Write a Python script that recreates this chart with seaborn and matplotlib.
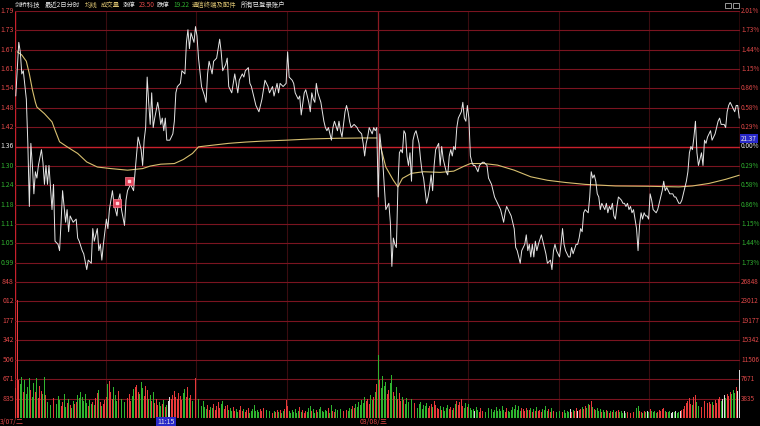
import matplotlib
matplotlib.use("Agg")
import matplotlib.pyplot as plt
from matplotlib.patches import Rectangle
import seaborn as sns
import pandas as pd
from matplotlib.transforms import blended_transform_factory as btf

# ---------------- data ----------------
prev_close = 21.36
price_min = [0, 2, 3, 4, 5, 7, 8, 9, 10, 11, 12, 13, 14, 15, 17, 18, 19, 20, 21, 22, 24, 25, 26, 28, 29, 30,
             31, 33, 34, 35, 36, 38, 40, 41, 42, 44, 45, 47, 48, 50, 51, 52, 54, 55, 56, 57, 58, 60, 61, 62,
             64, 65, 67, 68, 69, 70, 72, 73, 74, 76, 78, 79, 81, 82, 83, 84, 85, 86, 87, 88, 89, 90, 91, 92,
             94, 95, 96, 97, 98, 99, 100, 102, 104, 105, 106, 107, 109, 110, 112, 113, 114, 115, 116, 118, 119,
             120, 121, 123, 125, 126, 127, 128, 130, 131, 133, 135, 136, 137, 139, 140, 141, 143, 144, 145, 147,
             148, 150, 151, 152, 154, 155, 156, 158, 159, 161, 163, 164, 165, 167, 168, 170, 171, 173, 174, 175,
             177, 179, 180, 181, 183, 184, 185, 187, 188, 189, 191, 192, 194, 195, 196, 197, 198, 199, 200, 202,
             204, 205, 206, 207, 209, 210, 211, 213, 214, 215, 216, 218, 219, 220, 221, 222, 224, 226, 227, 229,
             230, 231, 232, 233, 234, 236, 237, 238, 239,
             240, 241, 243, 245, 247, 248, 249, 250, 251, 252, 253, 254, 255, 256, 257, 258, 259, 260, 261, 262,
             263, 264, 265, 267, 268, 269, 270, 271, 272, 273, 274, 275, 276, 277, 278, 279, 280, 281, 282, 283,
             285, 286, 287, 288, 289, 290, 291, 292, 293, 295, 296, 297, 298, 299, 300, 301, 302, 303, 304, 306,
             307, 309, 310, 312, 313, 314, 315, 316, 317, 319, 320, 321, 323, 324, 325, 326, 328, 329, 330, 331,
             332, 333, 334, 335, 337, 338, 339, 340, 341, 342, 343, 344, 345, 346, 348, 349, 350, 351, 352, 354,
             355, 356, 357, 358, 360, 361, 362, 363, 364, 366, 367, 368, 369, 371, 372, 373, 374, 375, 376, 377,
             379, 380, 381, 382, 383, 384, 385, 386, 387, 388, 390, 391, 392, 393, 394, 395, 396, 397, 398, 399,
             401, 402, 403, 404, 405, 406, 407, 408, 409, 410, 411, 412, 413, 414, 415, 416, 417, 418, 419, 420,
             421, 422, 424, 425, 426, 427, 428, 429, 430, 431, 433, 434, 435, 436, 437, 438, 439, 440, 441, 442,
             444, 445, 446, 447, 448, 449, 450, 451, 452, 453, 454, 455, 456, 457, 458, 459, 460, 461, 462, 463,
             464, 465, 466, 467, 469, 470, 471, 472, 473, 474, 476, 477, 478, 479]
price_val = [21.52, 21.69, 21.66, 21.59, 21.60, 21.51, 21.37, 21.17, 21.37, 21.30, 21.21, 21.28, 21.26, 21.30,
             21.35, 21.31, 21.24, 21.30, 21.24, 21.30, 21.16, 21.24, 21.06, 21.05, 21.03, 21.12, 21.22, 21.12,
             21.16, 21.09, 21.14, 21.12, 21.13, 21.07, 21.06, 21.03, 21.02, 20.97, 21.00, 20.99, 21.10, 21.06,
             21.10, 21.03, 21.05, 21.00, 21.05, 21.13, 21.10, 21.16, 21.22, 21.18, 21.14, 21.19, 21.21, 21.16,
             21.11, 21.19, 21.22, 21.24, 21.22, 21.28, 21.39, 21.37, 21.35, 21.30, 21.38, 21.42, 21.58, 21.50,
             21.43, 21.53, 21.42, 21.45, 21.50, 21.47, 21.43, 21.45, 21.41, 21.45, 21.38, 21.38, 21.40, 21.44,
             21.53, 21.55, 21.56, 21.60, 21.59, 21.69, 21.73, 21.67, 21.72, 21.69, 21.74, 21.71, 21.64, 21.55,
             21.52, 21.50, 21.59, 21.63, 21.59, 21.63, 21.64, 21.70, 21.66, 21.60, 21.62, 21.64, 21.55, 21.53,
             21.56, 21.59, 21.53, 21.57, 21.59, 21.58, 21.60, 21.61, 21.56, 21.55, 21.51, 21.49, 21.47, 21.51,
             21.54, 21.57, 21.55, 21.53, 21.55, 21.52, 21.56, 21.53, 21.56, 21.55, 21.56, 21.66, 21.58, 21.57,
             21.56, 21.53, 21.51, 21.52, 21.46, 21.53, 21.54, 21.50, 21.47, 21.53, 21.51, 21.50, 21.56, 21.53,
             21.50, 21.44, 21.42, 21.41, 21.42, 21.38, 21.42, 21.44, 21.41, 21.44, 21.41, 21.39, 21.47, 21.49,
             21.47, 21.44, 21.42, 21.43, 21.42, 21.41, 21.40, 21.37, 21.33, 21.37, 21.39, 21.42, 21.40, 21.42,
             21.41, 21.42,
             21.20, 21.40, 21.31, 21.16, 21.18, 21.12, 20.98, 21.07, 21.05, 21.04, 21.23, 21.34, 21.35, 21.34,
             21.41, 21.40, 21.33, 21.30, 21.34, 21.25, 21.38, 21.40, 21.41, 21.37, 21.32, 21.28, 21.26, 21.22,
             21.18, 21.20, 21.23, 21.27, 21.22, 21.30, 21.35, 21.36, 21.37, 21.30, 21.36, 21.32, 21.28, 21.27,
             21.33, 21.35, 21.33, 21.36, 21.35, 21.42, 21.45, 21.47, 21.50, 21.45, 21.44, 21.49, 21.45, 21.33,
             21.31, 21.30, 21.30, 21.28, 21.30, 21.31, 21.31, 21.30, 21.26, 21.25, 21.24, 21.22, 21.20, 21.18,
             21.17, 21.16, 21.12, 21.15, 21.17, 21.16, 21.14, 21.12, 21.10, 21.04, 21.03, 21.01, 20.99, 21.03,
             21.05, 21.08, 21.03, 21.05, 21.01, 21.05, 21.01, 21.06, 21.03, 21.05, 21.08, 21.06, 21.04, 21.02,
             20.99, 21.00, 20.97, 21.03, 21.05, 21.03, 21.01, 21.05, 21.10, 21.05, 21.03, 21.01, 21.01, 21.04,
             21.02, 21.05, 21.05, 21.07, 21.10, 21.09, 21.15, 21.16, 21.15, 21.20, 21.28, 21.26, 21.27, 21.25,
             21.21, 21.20, 21.16, 21.18, 21.16, 21.18, 21.15, 21.17, 21.16, 21.18, 21.14, 21.13, 21.17, 21.20,
             21.19, 21.18, 21.18, 21.17, 21.18, 21.16, 21.17, 21.15, 21.16, 21.13, 21.10, 21.03, 21.11, 21.15,
             21.13, 21.15, 21.14, 21.14, 21.13, 21.21, 21.19, 21.16, 21.15, 21.16, 21.18, 21.20, 21.22, 21.25,
             21.22, 21.23, 21.21, 21.21, 21.21, 21.20, 21.20, 21.19, 21.18, 21.18, 21.19, 21.21, 21.25, 21.28,
             21.34, 21.36, 21.35, 21.39, 21.44, 21.34, 21.30, 21.32, 21.34, 21.30, 21.38, 21.37, 21.39, 21.40,
             21.41, 21.38, 21.39, 21.40, 21.42, 21.44, 21.45, 21.43, 21.43, 21.42, 21.47, 21.49, 21.50, 21.49,
             21.47, 21.49, 21.49, 21.45]

avg1_min = [1, 4, 7, 9, 11, 13, 14, 19, 24, 26, 29, 34, 41, 47, 54, 63, 74, 84, 89, 96, 105, 111, 117, 121,
            130, 141, 152, 163, 179, 196, 212, 230, 239]
avg1_val = [21.66, 21.65, 21.63, 21.59, 21.54, 21.50, 21.485, 21.464, 21.438, 21.412, 21.375, 21.359, 21.338,
            21.311, 21.295, 21.29, 21.285, 21.29, 21.298, 21.304, 21.306, 21.319, 21.338, 21.359, 21.364, 21.37,
            21.374, 21.377, 21.38, 21.384, 21.386, 21.387, 21.387]
avg2_min = [241, 245, 250, 253, 256, 262, 270, 281, 290, 297, 301, 310, 319, 330, 341, 352, 364, 377, 397, 419,
            439, 448, 459, 470, 479]
avg2_val = [21.37, 21.295, 21.253, 21.232, 21.259, 21.275, 21.28, 21.278, 21.282, 21.298, 21.306, 21.306,
            21.301, 21.285, 21.264, 21.253, 21.246, 21.24, 21.235, 21.234, 21.232, 21.235, 21.243, 21.256, 21.269]

mark_min = [67, 75]
mark_val = [21.18, 21.25]

# per-minute volume (shares), 20 minutes per row
volume = [
    6000, 23200, 7500, 6800, 8000, 5200, 7600, 4800, 6200, 7900, 5600, 4200, 6900, 5100, 7800, 3900, 6400, 5300, 4700, 8100,
    4500, 3200, 5800, 2600, 6400, 3900, 5100, 2800, 4300, 3600, 2400, 3100, 4700, 2200, 2900, 3800, 2500, 1900, 3300, 2700,
    3100, 4600, 3900, 5200, 4100, 3300, 4800, 2900, 2300, 3600, 2700, 3200, 2500, 3900, 4900, 5600, 3100, 2400, 2800, 3500,
    4200, 6800, 7400, 5100, 3800, 6200, 4500, 3300, 5400, 2900, 3700, 4100, 3200, 2600, 3900, 4800, 3400, 4400, 5800, 6100,
    6600, 5200, 4700, 7100, 5900, 4300, 6400, 5500, 3800, 4600, 3400, 5100, 2900, 3700, 2600, 3200, 2400, 2800, 3500, 2100,
    2600, 3300, 4100, 3700, 4600, 5300, 4200, 3800, 5000, 4400, 3600, 4900, 5700, 4100, 6200, 3900, 4500, 3400, 4800, 7900,
    4600, 3700, 2900, 2300, 3400, 2100, 1800, 2600, 1500, 2200, 1900, 2800, 1600, 2400, 3100, 2000, 2700, 3300, 1700, 2300,
    2500, 1600, 1900, 1300, 2200, 1400, 1800, 1100, 1600, 2400, 1300, 1700, 1200, 1500, 1900, 1000, 1400, 1800, 2600, 1300,
    1500, 1100, 1700, 1300, 2000, 1200, 1600, 900, 1400, 1800, 1000, 1300, 1100, 1600, 1200, 1500, 900, 1300, 1700, 3600,
    2400, 1400, 1000, 1500, 1200, 1800, 900, 1300, 2100, 1100, 1600, 1000, 1400, 1200, 1900, 2300, 1300, 1700, 1000, 1500,
    1200, 1800, 2200, 1400, 1100, 1600, 1300, 1900, 1000, 2500, 1400, 1200, 1700, 1500, 1100, 1800, 2600, 1300, 1900, 1600,
    1400, 2000, 1700, 2400, 1900, 2800, 2200, 3100, 2600, 3500, 2900, 4200, 3300, 3800, 2700, 4600, 3600, 4100, 5200, 6800,
    12400, 7600, 5900, 8200, 6400, 7100, 4800, 5600, 6900, 8400, 5200, 4400, 6100, 3700, 4900, 3300, 4200, 3600, 2800, 3900,
    3100, 2500, 3800, 2200, 2900, 3400, 2000, 2700, 3200, 1800, 2600, 2300, 3000, 1900, 2400, 2800, 2100, 3300, 2500, 2000,
    1800, 2300, 1600, 2100, 1400, 1900, 2500, 1700, 2200, 1500, 2000, 2800, 3400, 2600, 3100, 3700, 2400, 2000, 2900, 2200,
    2700, 1900, 1500, 1800, 1300, 2100, 1600, 1200, 1900, 1400, 1700, 1100, 1500, 2000, 1300, 1800, 1200, 1600, 2200, 1400,
    1700, 1300, 2400, 1500, 1100, 1900, 1400, 1200, 1600, 2100, 1800, 2600, 1500, 2300, 1300, 1900, 1700, 1400, 2000, 1600,
    1500, 1900, 1200, 1700, 1400, 2200, 1300, 1600, 1100, 1800, 1500, 2400, 1300, 1700, 1200, 2000, 1400, 1600, 1100, 1500,
    1300, 1800, 1200, 1600, 1000, 1400, 1200, 1700, 1100, 1500, 1300, 1900, 1400, 1600, 1800, 2200, 1700, 2400, 2000, 2700,
    2600, 3400, 2200, 1800, 1500, 1900, 1300, 1700, 1200, 1500, 1100, 1600, 1300, 1000, 1400, 1200, 1600, 1100, 1300, 1500,
    1100, 1400, 1000, 1300, 900, 1200, 1500, 1000, 1300, 1100, 1600, 1900, 2300, 1400, 1200, 1000, 1300, 1100, 1400, 1200,
    1800, 1400, 1100, 1300, 1000, 1200, 1500, 1300, 1700, 1900, 1400, 1200, 1100, 1300, 1000, 1200, 1100, 1400, 1000, 1200,
    1300, 1500, 1800, 2300, 2900, 3400, 3900, 2800, 2500, 4100, 4600, 3100, 2400, 2700, 2200, 2600, 3300, 2500, 2900, 3100,
    2800, 3200, 2500, 3600, 2900, 3800, 4200, 3300, 3700, 4500, 3900, 4800, 4300, 5200, 4700, 5600, 4900, 6100, 5400, 9500,
]

left_price_labels = ["1.79", "1.73", "1.67", "1.61", "1.54", "1.48", "1.42", "1.36",
                     "1.30", "1.24", "1.18", "1.11", "1.05", "0.99"]
right_pct_labels = ["2.01%", "1.73%", "1.44%", "1.15%", "0.86%", "0.58%", "0.29%", "0.00%",
                    "0.29%", "0.58%", "0.86%", "1.15%", "1.44%", "1.73%"]
vol_levels = [0, 3835, 7671, 11506, 15342, 19177, 23012, 26848]
vol_left_labels = ["", "835", "671", "506", "342", "177", "012", "848"]
vol_right_labels = ["", "3835", "7671", "11506", "15342", "19177", "23012", "26848"]

# ---------------- style ----------------
sns.set_theme(style="dark")
plt.rcParams["font.family"] = ["Noto Sans CJK SC", "DejaVu Sans"]

BG = "#000000"
GRID = "#7a1420"
GRID_MID = "#c8202c"
VGRID = "#3a0c10"
RED = "#e04848"
GREEN = "#30b030"
WHITE = "#e6e6e6"
YEL = "#d8c070"
FS = 5.0

W, H = 760, 426
fig = plt.figure(figsize=(W / 100, H / 100), dpi=100, facecolor=BG)
x0, x1 = 15, 740
ax = fig.add_axes([x0 / W, 1 - 282 / H, (x1 - x0) / W, (282 - 11) / H], facecolor=BG)
axv = fig.add_axes([x0 / W, 1 - 418 / H, (x1 - x0) / W, (418 - 282) / H], facecolor=BG)

step = prev_close * 0.0201 / 7
ymin, ymax = prev_close - 7 * step, prev_close + 7 * step
xmin, xmax = -0.5, 479.5

# volume bar colour from the direction of the traced price around each minute
dirs = []
j = 0
for m in range(len(volume)):
    while j < len(price_min) - 1 and price_min[j] < m:
        j += 1
    nxt = price_val[j]
    prv = price_val[j - 1] if j > 0 else prev_close
    dirs.append("up" if nxt > prv else ("down" if nxt < prv else "flat"))
dfv = pd.DataFrame({"t": list(range(len(volume))), "v": volume, "d": dirs})
dfv.loc[len(volume) - 1, "d"] = "flat"

sns.barplot(data=dfv, x="t", y="v", hue="d", native_scale=True, dodge=False, width=0.62,
            palette={"up": "#e83a3a", "down": "#2fb52f", "flat": "#dcdcdc"}, saturation=1,
            errorbar=None, linewidth=0, legend=False, ax=axv, zorder=3)

for a in (ax, axv):
    a.set_xlim(xmin, xmax)
    a.set_xticks([])
    a.set_yticks([])
    a.grid(False)
    for s in a.spines.values():
        s.set_visible(False)
    for xm in [60, 120, 180, 300, 360, 420]:
        a.axvline(xm - 0.5, color=VGRID, lw=0.8, zorder=0)
    a.axvline(239.5, color="#8a1a22", lw=0.9, zorder=0)
    a.axvline(xmin, color=GRID_MID, lw=1.0, zorder=0)
    a.axvline(xmax, color=GRID_MID, lw=1.0, zorder=0)
    a.set_xlabel("")
    a.set_ylabel("")

ax.set_ylim(ymin, ymax)
tl = btf(fig.transFigure, ax.transData)
for k, lab in enumerate(left_price_labels):
    lvl = prev_close + (7 - k) * step
    ax.axhline(lvl, color=GRID_MID if k == 7 else GRID, lw=1.0 if k == 7 else 0.8, zorder=0)
    col = WHITE if k == 7 else (RED if k < 7 else GREEN)
    ax.text(14 / W, lvl, lab, transform=tl, ha="right", va="center", fontsize=FS, color=col)
    ax.text(741 / W, lvl, right_pct_labels[k], transform=tl, ha="left", va="center",
            fontsize=FS - 0.4, color=col)
ax.axhline(ymin, color=GRID, lw=0.8, zorder=0)

dfp = pd.DataFrame({"t": price_min, "p": price_val})
sns.lineplot(data=dfp, x="t", y="p", ax=ax, color=WHITE, lw=0.7, zorder=3)
dfa1 = pd.DataFrame({"t": avg1_min, "p": avg1_val})
dfa2 = pd.DataFrame({"t": avg2_min, "p": avg2_val})
sns.lineplot(data=dfa1, x="t", y="p", ax=ax, color=YEL, lw=0.8, zorder=2)
sns.lineplot(data=dfa2, x="t", y="p", ax=ax, color=YEL, lw=0.8, zorder=2)
ax.scatter(mark_min, mark_val, marker="s", s=30, color="#e0445a", edgecolor="#ff8090", lw=0.5, zorder=4)
ax.scatter(mark_min, mark_val, marker="s", s=4, color="#ffd0d8", zorder=5)
ax.set_xlabel("")
ax.set_ylabel("")
ax.set_xlim(xmin, xmax)

# current price tag
ax.text(741 / W, 21.372, "21.37", transform=tl, ha="left", va="bottom", fontsize=FS - 0.4, color=WHITE,
        bbox=dict(boxstyle="square,pad=0.1", fc="#2828c8", ec="none"))

# volume axis
axv.set_ylim(0, vol_levels[-1])
axv.set_xlim(xmin, xmax)
tv = btf(fig.transFigure, axv.transData)
for k, lv in enumerate(vol_levels):
    if k > 0:
        axv.axhline(lv, color=GRID, lw=0.8, zorder=0)
        axv.text(14 / W, lv, vol_left_labels[k], transform=tv, ha="right", va="center",
                 fontsize=FS, color=RED)
        axv.text(741 / W, lv, vol_right_labels[k], transform=tv, ha="left", va="center",
                 fontsize=FS - 0.4, color=RED)

# header
hdr = [("剑桥科技", WHITE, 15), ("最近2日分时", WHITE, 45), ("均线", YEL, 85), ("成交量", YEL, 101),
       ("涨停", WHITE, 123), ("23.50", RED, 139), ("跌停", WHITE, 157), ("19.22", GREEN, 173),
       ("通信终端及配件", YEL, 192), ("所有已登录账户", WHITE, 241)]
for s, c, xp in hdr:
    fig.text(xp / W, 1 - 5.0 / H, s, ha="left", va="center", fontsize=4.6, color=c)

# top-right small icons
for xi in (725, 733):
    fig.patches.append(Rectangle((xi / W, 1 - 8 / H), 6 / W, 5 / H, transform=fig.transFigure,
                                 fill=False, ec="#b0b0b0", lw=0.6))

# bottom time labels
fig.text(0 / W, 1 - 422 / H, "3/07/二", ha="left", va="center", fontsize=FS, color=RED)
fig.text(166 / W, 1 - 422 / H, "11:15", ha="center", va="center", fontsize=FS, color=WHITE,
         bbox=dict(boxstyle="square,pad=0.15", fc="#2828c8", ec="none"))
fig.text(360 / W, 1 - 422 / H, "03/08/三", ha="left", va="center", fontsize=FS, color=RED)

fig.savefig("out.png", dpi=100, facecolor=BG)
